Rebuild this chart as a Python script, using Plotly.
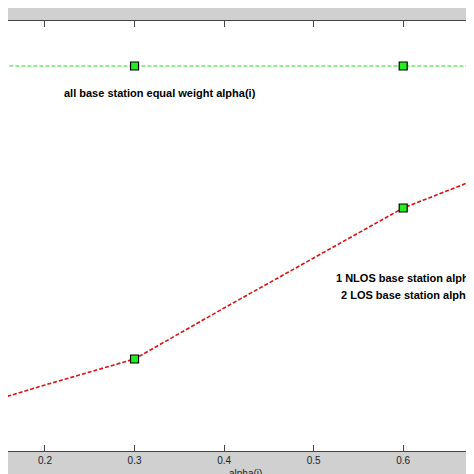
import plotly.graph_objects as go

alpha = [0.1, 0.2, 0.3, 0.4, 0.5, 0.6, 0.7]
mixed_curve = [39, 66, 92, 143, 193, 243, 278]
equal_curve = [385, 385, 385, 385, 385, 385, 385]
marker_alpha = [0.3, 0.6]
marker_mixed = [92, 243]
marker_equal = [385, 385]
tick_vals = [0.2, 0.3, 0.4, 0.5, 0.6, 0.7]

fig = go.Figure()
fig.add_trace(go.Scatter(x=alpha, y=equal_curve, mode='lines',
                         line=dict(color='#22dd22', dash='4px,2px', width=1.2)))
fig.add_trace(go.Scatter(x=alpha, y=mixed_curve, mode='lines',
                         line=dict(color='#e01010', dash='4px,2px', width=1.6)))
fig.add_trace(go.Scatter(x=marker_alpha, y=marker_equal, mode='markers',
                         marker=dict(symbol='square', size=8, color='#22ee22',
                                     line=dict(color='black', width=1.2))))
fig.add_trace(go.Scatter(x=marker_alpha, y=marker_mixed, mode='markers',
                         marker=dict(symbol='square', size=8, color='#22ee22',
                                     line=dict(color='black', width=1.2))))

bold = dict(family='Arial', size=11, color='black')
fig.add_annotation(x=0.219, y=358, text='<b>all base station equal weight alpha(i)</b>',
                   showarrow=False, xanchor='left', font=bold)
fig.add_annotation(x=0.523, y=173, text='<b>1 NLOS base station alpha(i)</b>',
                   showarrow=False, xanchor='left', font=bold)
fig.add_annotation(x=0.528, y=156, text='<b>2 LOS base station alpha(i)</b>',
                   showarrow=False, xanchor='left', font=bold)
fig.add_annotation(x=0.5, y=-0.052, xref='paper', yref='paper', text='alpha(i)',
                   showarrow=False, yanchor='middle',
                   font=dict(family='Arial', size=10, color='#222'))

fig.update_layout(
    width=474, height=474, showlegend=False,
    margin=dict(l=0, r=0, t=13, b=31, pad=0),
    paper_bgcolor='#d0d0d0', plot_bgcolor='white',
    xaxis=dict(range=[0.1587, 0.688], tickvals=tick_vals, ticks='inside', ticklen=6,
               mirror='ticks', showline=True, linecolor='#444', showgrid=False,
               zeroline=False, automargin=False,
               tickfont=dict(family='Arial', size=10, color='#222')),
    yaxis=dict(range=[0, 430], showticklabels=False, ticks='', showgrid=False,
               zeroline=False, showline=False, automargin=False),
)
fig.write_html('out.html')
